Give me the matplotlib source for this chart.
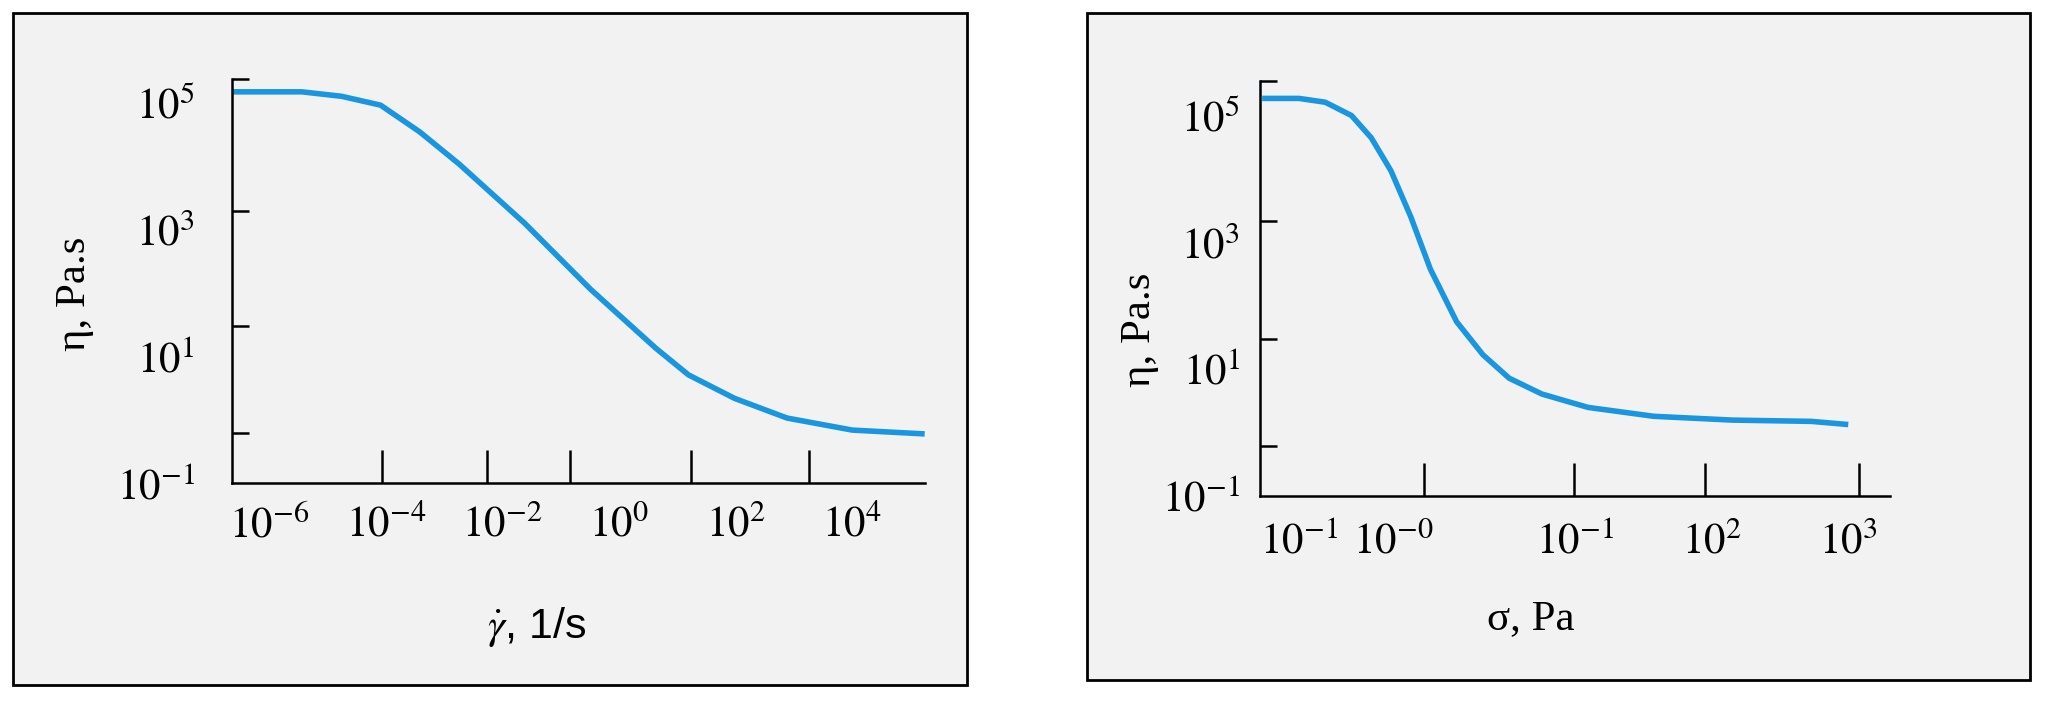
import matplotlib.pyplot as plt
from matplotlib.patches import Rectangle

plt.rcParams['font.family'] = ['Liberation Serif', 'DejaVu Serif']
plt.rcParams['mathtext.fontset'] = 'stix'

BLUE = '#1a96e0'
BG = '#f2f2f2'

# left panel: viscosity vs shear rate (x, y in decade units as drawn)
shear_x = [-6.63, -5.44, -4.76, -4.09, -3.42, -2.74, -1.62, -0.49, 0.63, 1.19, 1.98, 2.88, 4.0, 5.24]
shear_eta = [5.17, 5.17, 5.10, 4.96, 4.54, 4.03, 3.10, 2.06, 1.13, 0.71, 0.34, 0.03, -0.16, -0.22]
shear_xlabels = ['$10^{-6}$', '$10^{-4}$', '$10^{-2}$', '$10^{0}$', '$10^{2}$', '$10^{4}$']
shear_xlabel_pos = [-6, -4, -2, 0, 2, 4]
shear_xticks = [-4.07, -2.27, -0.85, 1.24, 3.26]
shear_yticks = [5.37, 3.3, 1.48, -0.21]

# right panel: viscosity vs stress
stress_x = [0.02, 0.30, 0.50, 0.70, 0.85, 1.00, 1.15, 1.30, 1.50, 1.70, 1.90, 2.15, 2.50, 3.00, 3.60, 4.20, 4.48]
stress_eta = [5.27, 5.27, 5.21, 5.0, 4.65, 4.13, 3.41, 2.58, 1.75, 1.23, 0.86, 0.61, 0.40, 0.26, 0.20, 0.18, 0.13]
stress_xlabels = ['$10^{-1}$', '$10^{-0}$', '$10^{-1}$', '$10^{2}$', '$10^{3}$']
stress_xlabel_pos = [0.30, 1.02, 2.40, 3.44, 4.48]
stress_xticks = [1.25, 2.39, 3.39, 4.56]
stress_yticks = [5.54, 3.34, 1.48, -0.21]

eta_labels = ['$10^{-1}$', '$10^{1}$', '$10^{3}$', '$10^{5}$']
eta_label_pos = [-1, 1, 3, 5]

fig = plt.figure(figsize=(20.48, 7.13), dpi=100)
fig.patch.set_facecolor('white')
fig.add_artist(Rectangle((0.0064, 0.039), 0.466, 0.943, transform=fig.transFigure,
                         facecolor=BG, edgecolor='black', lw=2, zorder=-1))
fig.add_artist(Rectangle((0.531, 0.046), 0.46, 0.936, transform=fig.transFigure,
                         facecolor=BG, edgecolor='black', lw=2, zorder=-1))


def style(ax, x, y, xlim, ylim, xlab_pos, xlabs, xticks, yticks, ypad, xpad):
    ax.set_facecolor('none')
    ax.plot(x, y, color=BLUE, lw=4, solid_capstyle='butt')
    ax.set_xlim(*xlim)
    ax.set_ylim(*ylim)
    for s in ['top', 'right']:
        ax.spines[s].set_visible(False)
    for s in ['left', 'bottom']:
        ax.spines[s].set_linewidth(1.8)
    ax.set_xticks(xlab_pos, xlabs)
    ax.set_yticks(eta_label_pos, eta_labels)
    ax.set_xticks(xticks, minor=True)
    ax.set_yticks(yticks, minor=True)
    ax.tick_params(which='major', length=0, labelsize=31)
    ax.tick_params(axis='y', which='major', pad=ypad)
    ax.tick_params(axis='x', which='major', pad=xpad)
    ax.tick_params(which='minor', direction='in', width=1.8)
    ax.tick_params(axis='y', which='minor', length=12)
    ax.tick_params(axis='x', which='minor', length=24)


ax1 = fig.add_axes([0.1135, 0.322, 0.338, 0.567])
style(ax1, shear_x, shear_eta, (-6.63, 5.24), (-1, 5.37),
      shear_xlabel_pos, shear_xlabels, shear_xticks, shear_yticks, 27, 16)
ax1.set_xlabel(r'$\dot{\gamma}$, 1/s', fontsize=31, family=['Liberation Sans', 'DejaVu Sans'])
ax1.xaxis.set_label_coords(0.44, -0.30)
ax1.set_ylabel('η, Pa.s', fontsize=31)
ax1.yaxis.set_label_coords(-0.20, 0.47)

ax2 = fig.add_axes([0.615, 0.304, 0.308, 0.582])
style(ax2, stress_x, stress_eta, (0, 4.8), (-1, 5.54),
      stress_xlabel_pos, stress_xlabels, stress_xticks, stress_yticks, 14, 19)
ax2.set_xlabel('σ, Pa', fontsize=31)
ax2.xaxis.set_label_coords(0.43, -0.25)
ax2.set_ylabel('η, Pa.s', fontsize=31)
ax2.yaxis.set_label_coords(-0.16, 0.40)

fig.savefig('out.png', dpi=100)
